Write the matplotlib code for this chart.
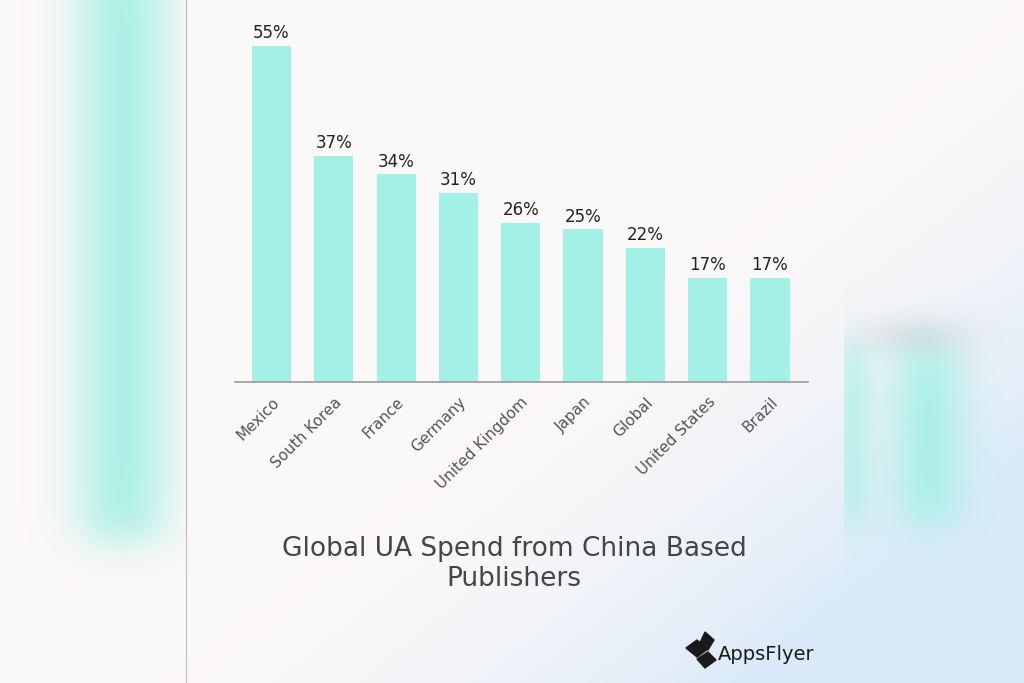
import numpy as np
import matplotlib
matplotlib.use("Agg")
import matplotlib.pyplot as plt
from matplotlib.patches import Polygon

# chart data
countries = ["Mexico", "South Korea", "France", "Germany", "United Kingdom",
             "Japan", "Global", "United States", "Brazil"]
share = [55, 37, 34, 31, 26, 25, 22, 17, 17]
title = "Global UA Spend from China Based\nPublishers"

W, H = 1024, 683
fig = plt.figure(figsize=(W / 100, H / 100), dpi=100)

# background: soft panel in the middle, blurred copies at the sides
bg = fig.add_axes([0, 0, 1, 1])
bg.set_axis_off()
xx, yy = np.meshgrid(np.arange(W), np.arange(H))
img = np.ones((H, W, 3))
img[..., 0] = 0.988
img[..., 1] = 0.973
img[..., 2] = 0.973
# blue tint towards bottom right
t = np.clip(((xx - 560) / 480.0 + (yy - 330) / 380.0) / 1.3, 0, 1) ** 1.8
blue = np.array([0.86, 0.92, 0.975])
for c in range(3):
    img[..., c] = img[..., c] * (1 - t) + blue[c] * t
teal = np.array([0.65, 0.94, 0.90])


def blur_stripe(cx, half, y0, y1, strength):
    gx = np.exp(-((xx - cx) / half) ** 2)
    gy = 1 / (1 + np.exp(-(yy - y0) / 12)) * 1 / (1 + np.exp((yy - y1) / 12))
    return (gx * gy * strength)[..., None]


side_l = (xx < 185)[..., None]
side_r = (xx > 843)[..., None]
a = blur_stripe(122, 48, -50, 540, 0.9) * side_l
img = img * (1 - a) + teal * a
a = blur_stripe(928, 40, 345, 525, 0.85) * side_r
img = img * (1 - a) + teal * a
a = blur_stripe(852, 22, 345, 525, 0.6) * side_r
img = img * (1 - a) + teal * a
g = (np.exp(-((xx - 915) / 55) ** 2 - ((yy - 335) / 20) ** 2) * 0.16)[..., None] * side_r
img = img * (1 - g) + np.array([0.55, 0.55, 0.55]) * g
bg.imshow(img, extent=[0, W, H, 0], aspect="auto")
bg.set_xlim(0, W)
bg.set_ylim(H, 0)
bg.plot([185.5, 185.5], [0, H], color="#bdbdbd", lw=0.8)

# bar chart
left, right, base, top = 235, 808, 382, 46
ax = fig.add_axes([left / W, (H - base) / H, (right - left) / W, (base - top) / H])
ax.patch.set_alpha(0)
x = np.arange(len(countries))
ax.bar(x, share, width=0.63, color="#a3f0e6")
ax.set_xlim(-0.586, len(countries) - 1 + 0.61)
ax.set_ylim(0, 55)
for xi, v in zip(x, share):
    ax.text(xi, v + 0.6, f"{v}%", ha="center", va="bottom", fontsize=12,
            color="#222222")
for s in ["top", "right", "left"]:
    ax.spines[s].set_visible(False)
ax.spines["bottom"].set_color("#9a9a9a")
ax.spines["bottom"].set_linewidth(1.2)
ax.set_yticks([])
ax.set_xticks(x)
ax.set_xticklabels(countries, rotation=45, ha="right", rotation_mode="anchor",
                   fontsize=11, color="#555555")
ax.tick_params(axis="x", length=0, pad=9)

# title
fig.text(514 / W, 1 - 564 / H, title, ha="center", va="center", fontsize=19,
         color="#454545", linespacing=1.2)

# logo
logo = fig.add_axes([0, 0, 1, 1])
logo.set_axis_off()
logo.patch.set_alpha(0)
logo.set_xlim(0, W)
logo.set_ylim(H, 0)
for pts in ([(686, 648), (697, 640), (708, 649), (697, 657)],
            [(699, 645), (705, 632), (714, 640), (708, 650)],
            [(697, 659), (708, 652), (716, 660), (705, 668)]):
    logo.add_patch(Polygon(pts, closed=True, color="#1a1a1a"))
fig.text(718 / W, 1 - 654 / H, "AppsFlyer", ha="left", va="center",
         fontsize=14, color="#1a1a1a")

fig.savefig("out.png", dpi=100)
